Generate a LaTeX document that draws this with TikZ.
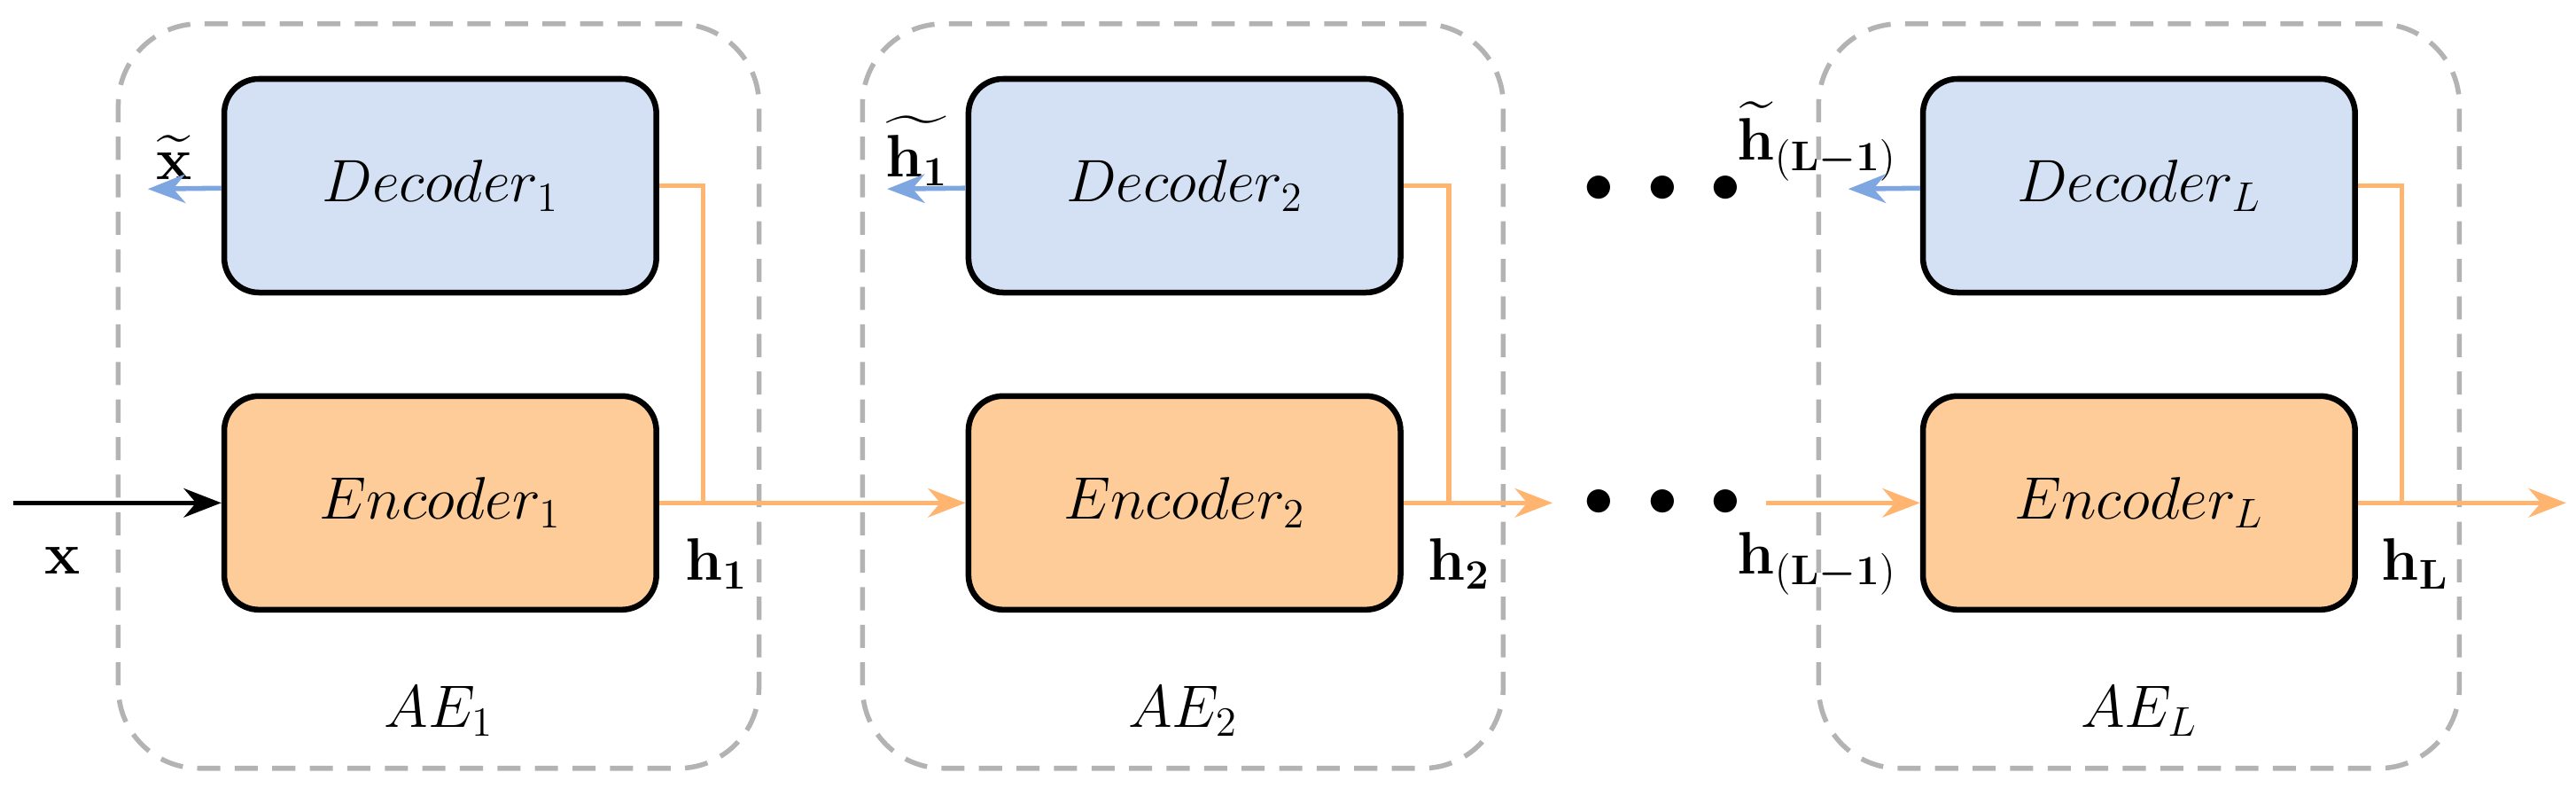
\documentclass[tikz,border=0pt]{standalone}
\usepackage{amsmath}
\usetikzlibrary{arrows.meta}
\definecolor{decfill}{HTML}{D4E1F4}
\definecolor{encfill}{HTML}{FDCC99}
\definecolor{outline}{HTML}{FFB570}
\definecolor{backarr}{HTML}{7EA6E0}
\definecolor{aegray}{HTML}{B3B3B3}
\tikzstyle{dec} = [rectangle, rounded corners=12pt, minimum width=5.26cm, minimum height=2.6cm, draw=black, line width=2pt, fill=decfill, font=\fontsize{21}{25}\selectfont]
\tikzstyle{enc} = [dec, fill=encfill]
\tikzstyle{aebox} = [rectangle, rounded corners=28pt, minimum width=7.8cm, minimum height=9.06cm, draw=aegray, line width=1.7pt, dash pattern=on 8pt off 5pt]
\tikzstyle{lbl} = [font=\fontsize{21}{25}\selectfont]
\tikzstyle{arrow} = [line width=1.7pt, -{Stealth[length=13pt, width=10pt]}]
\tikzstyle{code} = [arrow, draw=outline]
\tikzstyle{back} = [arrow, draw=backarr]
\begin{document}
\begin{tikzpicture}[x=0.2mm, y=-0.2mm]
\useasboundingbox (0,0) rectangle (1568,484);

%% NODES

\node (ae1) [aebox] at (267,241) {};
\node (ae2) [aebox] at (720,241) {};
\node (aeL) [aebox] at (1302,241) {};
\node (dec1) [dec] at (268,113) {$Decoder_1$};
\node (enc1) [enc] at (268,306) {$Encoder_1$};
\node (dec2) [dec] at (721,113) {$Decoder_2$};
\node (enc2) [enc] at (721,306) {$Encoder_2$};
\node (decL) [dec] at (1302,113) {$Decoder_L$};
\node (encL) [enc] at (1302,306) {$Encoder_L$};
\node (ael1) [lbl] at (267,433) {$AE_1$};
\node (ael2) [lbl] at (720,433) {$AE_2$};
\node (aelL) [lbl] at (1302,433) {$AE_L$};
\node (dotsup) [lbl] at (1012,115) {$\bullet\hspace{7pt}\bullet\hspace{7pt}\bullet$};
\node (dotsdn) [lbl] at (1012,306) {$\bullet\hspace{7pt}\bullet\hspace{7pt}\bullet$};

\coordinate (xin) at (8,306);
\coordinate (xout) at (90,115);
\coordinate (hout1) at (540,115);
\coordinate (houtL) at (1125,115);
\coordinate (h1) at (428,306);
\coordinate (h2) at (882,306);
\coordinate (h2end) at (945,306);
\coordinate (hLm) at (1075,306);
\coordinate (hL) at (1462,306);
\coordinate (hLend) at (1562,306);

\node (xlbl) [lbl] at (38,341) {$\mathbf{x}$};
\node (xtlbl) [lbl] at (106,96) {$\widetilde{\mathbf{x}}$};
\node (h1lbl) [lbl] at (436,343) {$\mathbf{h}_{\mathbf{1}}$};
\node (h1tlbl) [lbl] at (558,92) {$\widetilde{\mathbf{h}_{\mathbf{1}}}$};
\node (h2lbl) [lbl] at (888,343) {$\mathbf{h}_{\mathbf{2}}$};
\node (hLmlbl) [lbl] at (1106,343) {$\mathbf{h}_{\mathbf{(L\boldsymbol{-}1)}}$};
\node (hLmtlbl) [lbl] at (1106,86) {$\widetilde{\mathbf{h}}_{\mathbf{(L\boldsymbol{-}1)}}$};
\node (hLlbl) [lbl] at (1470,343) {$\mathbf{h}_{\mathbf{L}}$};

%% ARROWS

\draw [arrow] (xin) -- (enc1);
\draw [back] (dec1) -- (xout);
\draw [back] (dec2) -- (hout1);
\draw [back] (decL) -- (houtL);
\draw [code, -] (dec1.east) -| (h1);
\draw [code, -] (dec2.east) -| (h2);
\draw [code, -] (decL.east) -| (hL);
\draw [code] (enc1) -- (enc2);
\draw [code] (enc2) -- (h2end);
\draw [code] (hLm) -- (encL);
\draw [code] (encL) -- (hLend);

\end{tikzpicture}
\end{document}
